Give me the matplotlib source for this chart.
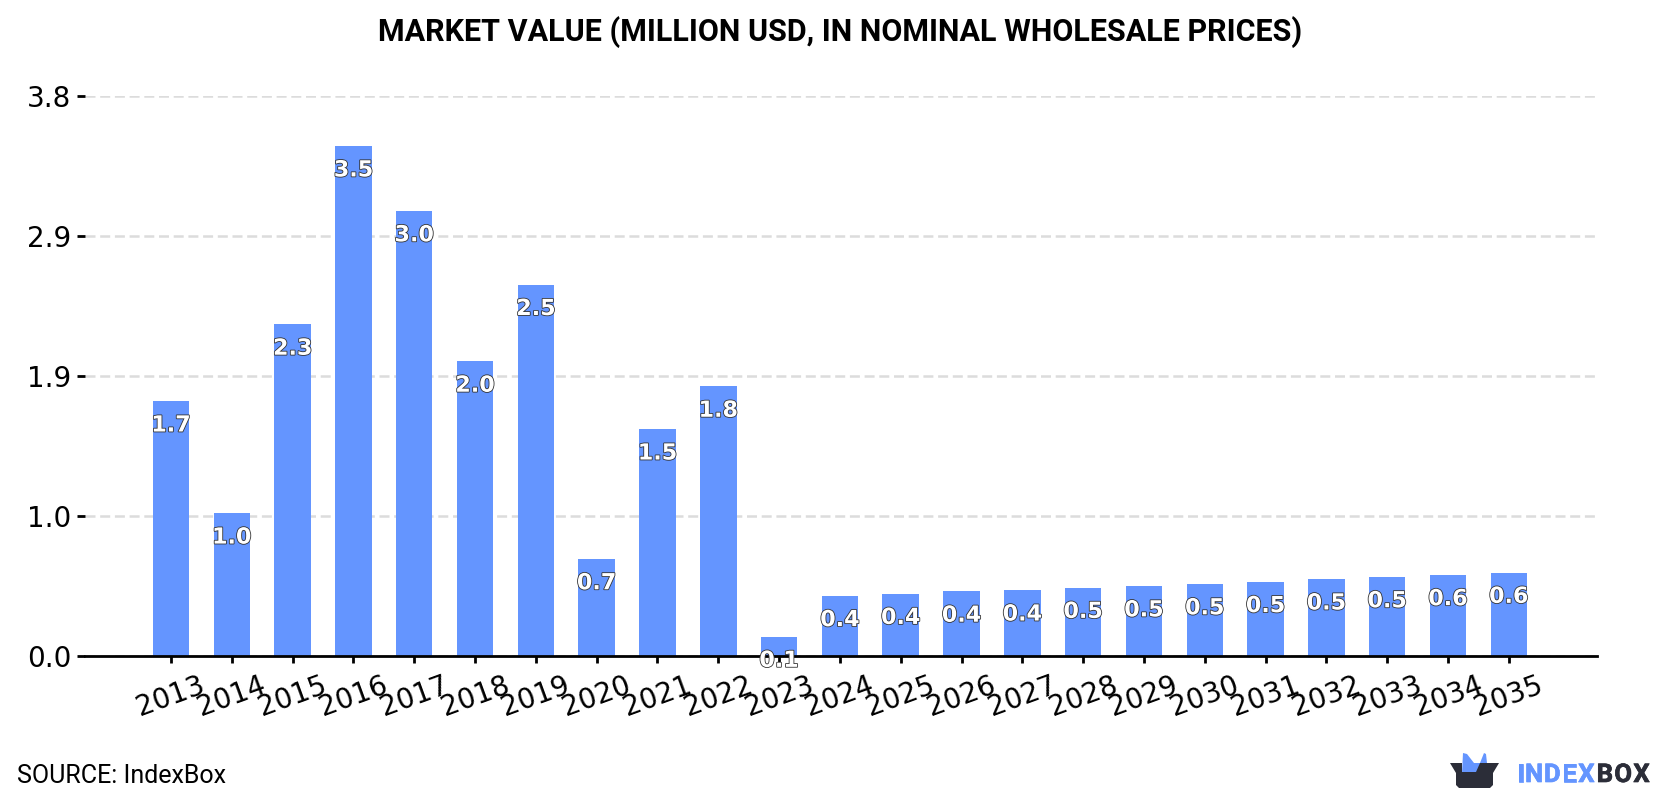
import numpy as np
import matplotlib
matplotlib.use('Agg')
import matplotlib.pyplot as plt
import matplotlib.patheffects as pe
from matplotlib.patches import Polygon
from matplotlib.textpath import TextPath
from matplotlib.font_manager import FontProperties

years = [2013, 2014, 2015, 2016, 2017, 2018, 2019, 2020, 2021, 2022, 2023, 2024,
         2025, 2026, 2027, 2028, 2029, 2030, 2031, 2032, 2033, 2034, 2035]
values = [1.73, 0.97, 2.251, 3.46, 3.02, 2.00, 2.52, 0.66, 1.54, 1.83, 0.134, 0.41,
          0.425, 0.44, 0.448, 0.466, 0.476, 0.49, 0.505, 0.523, 0.538, 0.552, 0.568]
y_ticks = [0, 0.95, 1.9, 2.85, 3.8]
y_labels = ['0.0', '1.0', '1.9', '2.9', '3.8']

W, H = 1680, 800
BLUE = '#6495ff'
DARK = '#2b2d38'

fig = plt.figure(figsize=(W / 100, H / 100), dpi=100, facecolor='white')
ax = fig.add_axes([85 / W, 1 - 656.3 / H, (1597 - 85) / W, (656.3 - 96) / H])

x = np.arange(len(years))
ax.bar(x, values, width=0.6, color=BLUE, zorder=2)

# value labels sit just under the top of each bar
for xi, v in zip(x, values):
    ax.annotate(f'{v:.1f}', (xi, v), xytext=(0, -17.5), textcoords='offset points',
                ha='center', va='center', fontsize=16, fontweight='bold', color='white',
                family='DejaVu Sans', zorder=5, annotation_clip=False,
                path_effects=[pe.withStroke(linewidth=1.2, foreground='#333333')])

ax.set_xlim(-1.414, 23.45)
ax.set_ylim(0, 3.8)
ax.set_yticks(y_ticks)
ax.set_yticklabels(y_labels)
ax.set_xticks(x)
ax.set_xticklabels(years, rotation=20, ha='center', rotation_mode='default')
ax.tick_params(axis='y', length=6, width=2, labelsize=20, pad=4, color='black')
ax.tick_params(axis='x', length=5, width=2, labelsize=20, pad=6, color='black')

ax.grid(axis='y', color='#dcdcdc', linewidth=1.8, linestyle=(0, (4, 1.88)), zorder=0)
ax.set_axisbelow(True)
for side in ['top', 'right', 'left']:
    ax.spines[side].set_visible(False)
ax.spines['bottom'].set_linewidth(2)

fig.text(0.5, 1 - 32 / H, 'MARKET VALUE (MILLION USD, IN NOMINAL WHOLESALE PRICES)',
         ha='center', va='center', fontsize=22, fontweight='bold', family='Roboto', color='black')
fig.text(17 / W, 1 - 776 / H, 'SOURCE: IndexBox', ha='left', va='center',
         fontsize=18, family='Roboto', color='black')

# logo in pixel coordinates
logo = fig.add_axes([0, 0, 1, 1], facecolor='none')
logo.set_xlim(0, W)
logo.set_ylim(H, 0)
logo.axis('off')
logo.add_patch(Polygon([(1462, 773), (1463, 753), (1467, 754), (1474, 763), (1480, 763),
                        (1484, 753), (1486, 754), (1487, 763), (1486, 773)],
                       facecolor=BLUE, edgecolor='none'))
logo.add_patch(Polygon([(1450, 763), (1462, 763), (1462, 772), (1476, 772), (1480, 763), (1499, 763),
                        (1493, 773), (1493, 785), (1490, 788), (1459, 788), (1456, 785), (1456, 773)],
                       facecolor=DARK, edgecolor='none'))

# wordmark is letter-spaced, so place it one glyph at a time
logo_font = FontProperties(family='Roboto', weight='bold', size=18.5)
pen = 1517.0
for part, colour in [('INDEX', BLUE), ('BOX', DARK)]:
    for ch in part:
        logo.text(pen, 782, ch, ha='left', va='baseline', fontproperties=logo_font, color=colour,
                  path_effects=[pe.withStroke(linewidth=0.5, foreground=colour)])
        adv = TextPath((0, 0), ch, prop=logo_font).get_extents().x1 * 100 / 72
        pen += adv + 2.4

fig.savefig('out.png', dpi=100)
